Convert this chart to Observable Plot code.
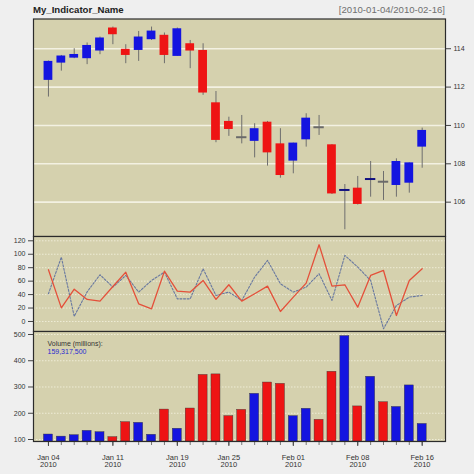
<!DOCTYPE html>
<html>
<head>
<meta charset="utf-8">
<script src="https://cdn.jsdelivr.net/npm/d3@7"></script>
<script src="https://cdn.jsdelivr.net/npm/@observablehq/plot@0.6"></script>
<style>
  html, body { margin: 0; padding: 0; background: #efefef; }
  #wrap { position: relative; width: 474px; height: 474px; background: #efefef; overflow: hidden;
          font-family: "Liberation Sans", Arial, sans-serif; }
  #wrap > svg, #wrap > div.p { position: absolute; left: 0; }
  .title { position: absolute; top: 4px; font-size: 9.6px; line-height: 12px; }
</style>
</head>
<body>
<div id="wrap"></div>
<script>
// ---- data ----
const dates = ["2010-01-04","2010-01-05","2010-01-06","2010-01-07","2010-01-08",
  "2010-01-11","2010-01-12","2010-01-13","2010-01-14","2010-01-15",
  "2010-01-19","2010-01-20","2010-01-21","2010-01-22",
  "2010-01-25","2010-01-26","2010-01-27","2010-01-28","2010-01-29",
  "2010-02-01","2010-02-02","2010-02-03","2010-02-04","2010-02-05",
  "2010-02-08","2010-02-09","2010-02-10","2010-02-11","2010-02-12",
  "2010-02-16"];
const open  = [112.35,113.25,113.51,113.48,113.88,115.08,113.97,113.91,114.47,114.70,
               113.60,114.26,113.91,111.18,110.21,109.37,109.17,110.17,109.04,108.14,
               109.25,109.89,108.99,106.60,106.73,107.17,107.05,106.87,106.99,108.87];
const high  = [113.36,113.65,114.00,114.30,114.61,115.13,114.21,114.90,115.13,114.82,
               115.08,114.43,114.26,111.77,110.43,110.52,110.09,110.21,109.83,109.08,
               110.61,110.52,109.00,106.92,107.34,108.12,107.60,108.26,108.05,109.86];
const low   = [111.48,112.83,113.48,113.17,113.69,114.21,113.22,113.34,114.43,113.22,
               113.60,112.96,111.57,109.10,109.43,109.04,108.31,107.88,107.25,107.48,
               108.87,109.48,106.40,104.56,105.85,106.26,106.09,106.26,106.47,107.77];
const close = [113.34,113.62,113.70,114.17,114.56,114.73,113.65,114.61,114.92,113.65,
               115.04,113.88,111.69,109.22,109.79,109.35,109.83,108.57,107.39,109.08,
               110.38,109.87,106.43,106.62,105.88,107.19,107.03,108.12,108.05,109.74];
// volume in millions
const volume = [119,111,116.5,133,128,109,166,163.5,118,214,
                141,218,346,348,189,213,274,317,312,189,
                217,175,358,494,226,339,242,224,306,159.3175];
// indicator series
const indRed  = [76.9,20.3,48.1,32.8,30.3,52.1,73.4,26.3,18.9,74.9,
                 45.2,43.7,61.0,32.8,54.6,30.3,41.2,52.6,14.9,36.2,
                 57.1,114.1,52.6,54.6,21.3,68.5,75.9,8.9,61.0,78.4];
const indBlue = [41.2,95.8,7.6,44.0,69.5,51.1,68.5,43.7,61.0,73.4,
                 33.7,33.7,78.4,38.7,43.7,31.3,66.0,90.8,56.1,43.7,
                 51.1,71.0,31.3,98.3,80.9,61.0,-10.9,23.8,36.2,38.7];
const priceTicks = [106,108,110,112,114];
const indTicks = [0,20,40,60,80,100,120];
const volTicks = [100,200,300,400,500];
const xTickIdx = [0,5,10,14,19,24,29];
const xTickLabels = ["Jan 04\n2010","Jan 11\n2010","Jan 19\n2010","Jan 25\n2010","Feb 01\n2010","Feb 08\n2010","Feb 16\n2010"];
const titleText = "My_Indicator_Name";
const volLabel = "Volume (millions):";

// ---- styling ----
const panelBg = "#d5d1ae";
const upCol = "#1414e0";
const dnCol = "#ee1414";
const frameCol = "#2b2b2b";
const xDomain = [-1.16, 30.81];
const ML = 33, MR = 29;
const font = "Liberation Sans, Arial, sans-serif";
const baseStyle = {background: "transparent", overflow: "visible", fontFamily: font, fontSize: "7px", color: "#333"};

const rows = dates.map((d, i) => ({
  i, d, o: open[i], h: high[i], l: low[i], c: close[i], v: volume[i],
  up: close[i] > open[i], doji: Math.abs(close[i] - open[i]) < 0.05
}));
const colorOf = r => r.up ? upCol : dnCol;

const wrap = document.getElementById("wrap");

// title
const t1 = document.createElement("div");
t1.className = "title";
t1.style.left = "33px";
t1.style.fontWeight = "bold";
t1.style.color = "#222";
t1.textContent = titleText;
wrap.appendChild(t1);
const t2 = document.createElement("div");
t2.className = "title";
t2.style.right = (474 - 445) + "px";
t2.style.color = "#707070";
t2.textContent = "[" + dates[0] + "/" + dates[dates.length - 1] + "]";
wrap.appendChild(t2);

function place(svg, top) {
  svg.style.position = "absolute";
  svg.style.top = top + "px";
  svg.style.left = "0px";
  wrap.appendChild(svg);
}

// ---- panel 1: candles ----
const p1 = Plot.plot({
  width: 474, height: 237, marginTop: 18.5, marginBottom: 1, marginLeft: ML, marginRight: MR,
  style: baseStyle,
  x: {domain: xDomain, axis: null},
  y: {domain: [104.21, 115.55], axis: null},
  marks: [
    Plot.frame({fill: panelBg, stroke: "none"}),
    Plot.gridY(priceTicks, {stroke: "#f3f1e2", strokeOpacity: 1, strokeWidth: 1.6}),
    Plot.ruleX(rows, {x: "i", y1: "l", y2: "h", stroke: "#6e6e6e", strokeWidth: 1}),
    Plot.rect(rows, {
      x1: r => r.i - 0.34, x2: r => r.i + 0.34, y1: "o", y2: "c",
      fill: r => r.doji ? "none" : colorOf(r),
      stroke: r => r.doji ? (r.up ? "#101080" : "#6a6a6a") : "none",
      strokeWidth: 1.6
    }),
    Plot.axisY(priceTicks, {anchor: "right", tickSize: 5, tickPadding: 3, fontSize: 7, label: null, stroke: "#444"}),
    Plot.frame({stroke: frameCol, strokeWidth: 1.2})
  ]
});
place(p1, 0);

// ---- panel 2: indicator ----
const ind = rows.map(r => ({i: r.i, red: indRed[r.i], blue: indBlue[r.i]}));
const p2 = Plot.plot({
  width: 474, height: 115, marginTop: 10, marginBottom: 10, marginLeft: ML, marginRight: MR,
  style: baseStyle,
  x: {domain: xDomain, axis: null},
  y: {domain: [-14.9, 126.4], axis: null},
  marks: [
    Plot.frame({fill: panelBg, stroke: "none"}),
    Plot.gridY(indTicks, {stroke: "#eeecd6", strokeOpacity: 1, strokeWidth: 1, strokeDasharray: "1.5,1.5"}),
    Plot.lineY(ind, {x: "i", y: "blue", stroke: "#6878a0", strokeWidth: 1.1, strokeDasharray: "2,1.6"}),
    Plot.lineY(ind, {x: "i", y: "red", stroke: "#e4503a", strokeWidth: 1.3}),
    Plot.axisY(indTicks, {anchor: "left", tickSize: 5, tickPadding: 3, fontSize: 7, label: null, stroke: "#444"}),
    Plot.frame({stroke: frameCol, strokeWidth: 1.2})
  ]
});
place(p2, 226);

// ---- panel 3: volume ----
const volBase = 92.4;
const lastVol = d3.format(",")(Math.round(volume[volume.length - 1] * 1e6));
const p3 = Plot.plot({
  width: 474, height: 153, marginTop: 10, marginBottom: 33, marginLeft: ML, marginRight: MR,
  style: baseStyle,
  x: {domain: xDomain, axis: null},
  y: {domain: [volBase, 511.4], axis: null},
  marks: [
    Plot.frame({fill: panelBg, stroke: "none"}),
    Plot.gridY(volTicks, {stroke: "#eeecd6", strokeOpacity: 1, strokeWidth: 1, strokeDasharray: "1.5,1.5"}),
    Plot.rect(rows, {x1: r => r.i - 0.35, x2: r => r.i + 0.35, y1: volBase, y2: "v",
      fill: colorOf, stroke: "#333", strokeWidth: 0.4}),
    Plot.text([volLabel], {frameAnchor: "top-left", dx: 14, dy: 10, fontSize: 7, fill: "#333", textAnchor: "start"}),
    Plot.text([lastVol], {frameAnchor: "top-left", dx: 14, dy: 18, fontSize: 7, fill: "#2a2ad0", textAnchor: "start"}),
    Plot.axisY(volTicks, {anchor: "left", tickSize: 5, tickPadding: 3, fontSize: 7, label: null, stroke: "#444"}),
    Plot.axisX(d3.range(dates.length), {anchor: "bottom", tickSize: 4, tickFormat: () => "", label: null, stroke: "#777"}),
    Plot.axisX(xTickIdx, {anchor: "bottom", tickSize: 5, tickPadding: 8, fontSize: 7.5, label: null, stroke: "#444",
      tickFormat: i => xTickLabels[xTickIdx.indexOf(i)], fill: "#333"}),
    Plot.frame({stroke: frameCol, strokeWidth: 1.2})
  ]
});
place(p3, 321);
</script>
</body>
</html>
